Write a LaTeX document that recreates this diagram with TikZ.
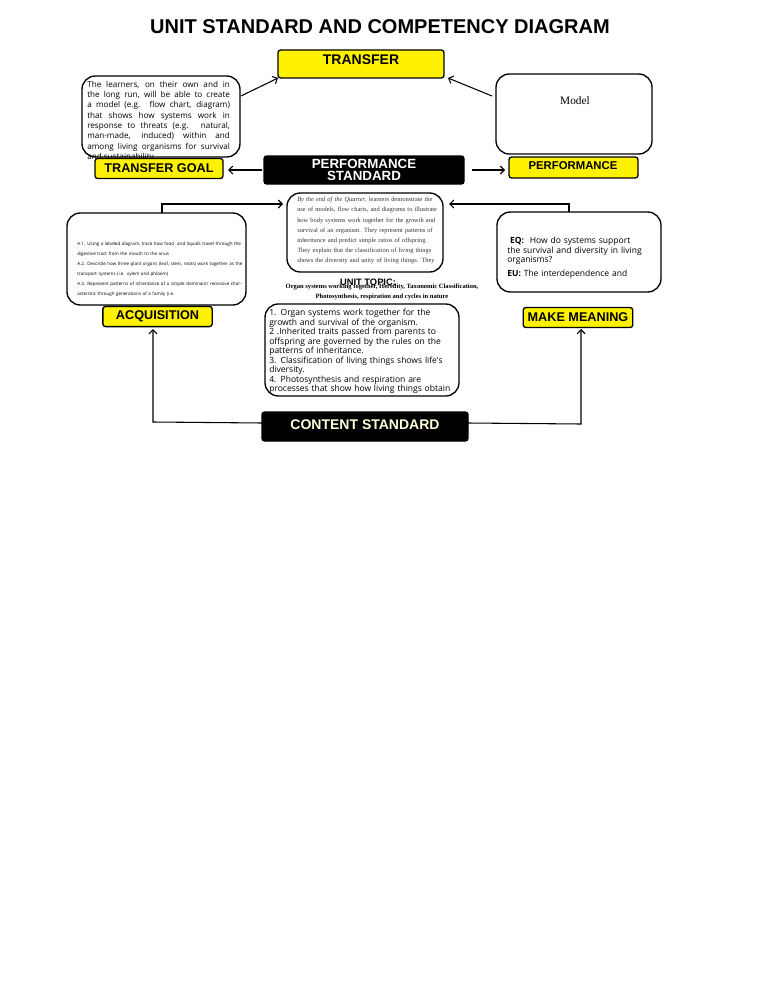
\documentclass[tikz,border=0pt]{standalone}
\usepackage{fontspec}
\setmainfont{Liberation Serif}
\setsansfont{Liberation Sans}
\newfontfamily\bodyf{Open Sans}
\usetikzlibrary{arrows.meta}
\newcommand\nohy{\hyphenpenalty=10000\relax}
\begin{document}
\begin{tikzpicture}[x=0.75pt,y=-0.75pt,
  ybox/.style={draw,line width=1pt,fill=yellow,rounded corners=2pt,font=\sffamily\bfseries\fontsize{9.5}{10}\selectfont},
  bbox/.style={draw,line width=1pt,fill=black,text=white!85!yellow,rounded corners=2pt,font=\sffamily\bfseries},
  tbox/.style={draw,line width=1pt,rounded corners=10pt},
  arr/.style={-{Straight Barb[length=3pt]},line width=0.8pt}]
\useasboundingbox (0,0) rectangle (768,1006);
\node[font=\sffamily\bfseries\fontsize{15}{16}\selectfont] (title) at (380,27) {UNIT STANDARD AND COMPETENCY DIAGRAM};
% transfer
\draw[ybox] (278,50) rectangle (444,78);
\begin{scope}
\clip (278,52) rectangle (444,80);
\node[font=\sffamily\bfseries\fontsize{10.5}{11}\selectfont] (transfer) at (361,60) {TRANSFER};
\end{scope}
\coordinate (trL) at (278,78); \coordinate (trR) at (448,78);
\draw[tbox] (82,76) rectangle (240,157);
\node[inner sep=0,text width=107pt,align=justify,font=\bodyf\fontsize{6.1}{7.7}\selectfont\nohy,anchor=north west] (goaltxt) at (87,81) {The learners, on their own and in the long run, will be able to create a model (e.g. flow chart, diagram) that shows how systems work in response to threats (e.g. natural, man-made, induced) within and among living organisms for survival and sustainability.};
\coordinate (gt) at (241,96);
\draw[arr] (gt) -- (trL);
\draw[tbox] (496,74) rectangle (652,154);
\node[font=\fontsize{8.5}{9}\selectfont] (model) at (575,101) {Model};
\coordinate (mt) at (492,96);
\draw[arr] (mt) -- (trR);
% row 2
\node[ybox,minimum width=96pt,minimum height=15pt] (tg) at (159,168.5) {TRANSFER GOAL};
\draw[bbox] (264,156) rectangle (464,184);
\node[font=\sffamily\bfseries\fontsize{10}{9}\selectfont,text=white,align=center] (ps) at (364,170) {PERFORMANCE\\STANDARD};
\coordinate (psL) at (262,170); \coordinate (psR) at (472,170);
\draw[ybox] (509,157) rectangle (638,178);
\node[font=\sffamily\bfseries\fontsize{8.5}{9}\selectfont] (perf) at (573,166) {PERFORMANCE};
\draw[arr] (psL) -- (228,170);
\draw[arr] (psR) -- (505,170);
% performance text
\draw[tbox] (287,193) rectangle (443,272);
\begin{scope}
\clip (289,195) rectangle (441,264);
\node[inner sep=0,text width=106pt,align=left,font=\fontsize{4.8}{7.6}\selectfont\nohy,text=black!80,anchor=north west] (pstxt) at (297,197) {\textit{By the end of the Quarter}, learners demonstrate the use of models, flow charts, and diagrams to illustrate how body systems work together for the growth and survival of an organism. They represent patterns of inheritance and predict simple ratios of offspring. They explain that the classification of living things shows the diversity and unity of living things. They};
\end{scope}
% acquisition
\draw[tbox] (67,213) rectangle (246,305);
\node[inner sep=0,text width=124pt,align=left,font=\bodyf\fontsize{3.4}{7.5}\selectfont,anchor=north west] (acqtxt) at (77,242) {A.1. Using a labeled diagram, trace how food\ \ and liquids travel through the digestive tract from the mouth to the anus\\A.2. Describe how three plant organs (leaf, stem, roots) work together as the\ \ transport systems (i.e. xylem and phloem)\\A.3. Represent patterns of inheritance of a simple dominant/ recessive characteristic through generations of a family (i.e.};
\node[ybox,minimum width=82pt,minimum height=15pt] (acq) at (157.5,316.5) {ACQUISITION};
\coordinate (acqtop) at (162,213);
\draw[arr] (acqtop) |- (283,204);
% EQ
\draw[tbox] (497,212) rectangle (661,292);
\begin{scope}
\clip (499,214) rectangle (659,287);
\node[inner sep=0,text width=118pt,align=left,font=\bodyf\fontsize{6.4}{7.1}\selectfont\nohy,anchor=north west] (eqtxt) at (507,237) {\ \textbf{EQ:} \ How do systems support the survival and diversity in living organisms?\\[3pt]\textbf{EU:} The interdependence and};
\end{scope}
\coordinate (eqtop) at (569,212);
\draw[arr] (eqtop) |- (449,204);
\node[ybox,minimum width=82pt,minimum height=15pt] (mm) at (578,317.5) {MAKE MEANING};
% unit topic
\node[font=\bfseries\fontsize{4.9}{7.7}\selectfont,align=center] (topic) at (382,292) {Organ systems working together, Heredity, Taxonomic Classification,\\Photosynthesis, respiration and cycles in nature};
\node[font=\sffamily\bfseries\fontsize{7}{8}\selectfont] (ut) at (368,282) {UNIT TOPIC:};
% content
\draw[tbox] (265,304) rectangle (459,396);
\begin{scope}
\clip (266,306) rectangle (458,395);
\node[inner sep=0,text width=138pt,align=left,font=\bodyf\fontsize{6.4}{7.1}\selectfont\nohy,anchor=north west] (cttxt) at (269,309) {1. Organ systems work together for the growth and survival of the organism.\\2 .Inherited traits passed from parents to offspring are governed by the rules on the patterns of inheritance.\\3. Classification of living things shows life's diversity.\\4. Photosynthesis and respiration are processes that show how living things obtain};
\end{scope}
\draw[bbox] (262,412) rectangle (468,441);
\node[font=\sffamily\bfseries\fontsize{10.5}{11}\selectfont,text=white!85!yellow] (cs) at (365,425) {CONTENT STANDARD};
\coordinate (csL) at (262,423); \coordinate (csR) at (468,423);
\draw[arr] (csL) -- (153,422) -- (153,329);
\draw[arr] (csR) -- (581,424) -- (581,329);
\end{tikzpicture}
\end{document}
